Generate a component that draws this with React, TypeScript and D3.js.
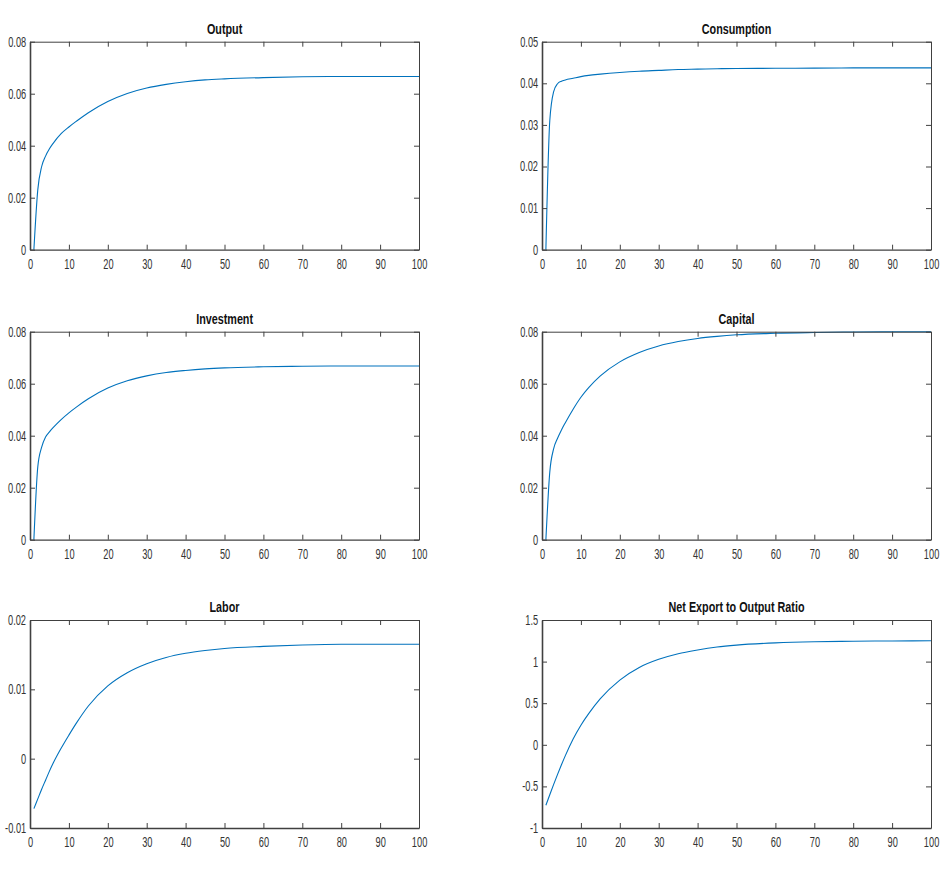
import { useMemo, useEffect, useRef } from "react";
import * as d3 from "d3";

const width = 948;
const height = 872;
const plotW = 389;
const plotH = 208;
const colLeft = [30, 542];
const rowTop = [41.7, 331.7, 620];

const lineColor = "#0072BD";
const axisColor = "#404040";
const fontFamily = "'Liberation Sans', Arial, sans-serif";
const squeeze = 0.66;

const periods = [1, 2, 3, 4, 5, 6, 8, 10, 12, 15, 20, 25, 30, 35, 40, 45, 50, 60, 70, 80, 90, 100];
const xTicks = [0, 10, 20, 30, 40, 50, 60, 70, 80, 90, 100];

const output = [0, 0.023, 0.032, 0.036, 0.0388, 0.041, 0.0446, 0.0472, 0.0495, 0.0527, 0.057, 0.0601, 0.0622, 0.0636, 0.0646, 0.0653, 0.0657, 0.0662, 0.0665, 0.0666, 0.0666, 0.0666];
const consumption = [0, 0.031, 0.038, 0.0399, 0.0405, 0.0408, 0.0412, 0.0416, 0.0419, 0.0422, 0.0426, 0.0429, 0.0431, 0.0433, 0.0434, 0.0435, 0.04355, 0.0436, 0.04365, 0.0437, 0.0437, 0.0437];
const investment = [0, 0.028, 0.0356, 0.0395, 0.0415, 0.0432, 0.0462, 0.0488, 0.0511, 0.0542, 0.0583, 0.0611, 0.063, 0.0643, 0.0651, 0.0657, 0.0661, 0.0665, 0.0667, 0.0668, 0.0668, 0.0668];
const capital = [0, 0.026, 0.035, 0.039, 0.0422, 0.045, 0.0502, 0.0548, 0.0585, 0.063, 0.0684, 0.072, 0.0745, 0.0762, 0.0774, 0.0782, 0.0788, 0.0794, 0.0797, 0.0799, 0.08, 0.08];
const labor = [-0.0072, -0.0058, -0.0044, -0.0031, -0.0018, -0.0006, 0.0015, 0.0034, 0.0052, 0.0076, 0.0105, 0.0124, 0.0137, 0.0146, 0.0152, 0.0156, 0.0159, 0.0162, 0.0164, 0.0165, 0.0165, 0.0165];
const netExportRatio = [-0.727, -0.6, -0.475, -0.355, -0.24, -0.13, 0.07, 0.236, 0.375, 0.555, 0.778, 0.93, 1.027, 1.095, 1.14, 1.175, 1.198, 1.225, 1.239, 1.245, 1.248, 1.25];

const ticks008 = [0, 0.02, 0.04, 0.06, 0.08];
const ticks005 = [0, 0.01, 0.02, 0.03, 0.04, 0.05];
const laborTicks = [-0.01, 0, 0.01, 0.02];
const ratioTicks = [-1, -0.5, 0, 0.5, 1, 1.5];

const panels = [
  { title: "Output", values: output, yTicks: ticks008, col: 0, row: 0 },
  { title: "Consumption", values: consumption, yTicks: ticks005, col: 1, row: 0 },
  { title: "Investment", values: investment, yTicks: ticks008, col: 0, row: 1 },
  { title: "Capital", values: capital, yTicks: ticks008, col: 1, row: 1 },
  { title: "Labor", values: labor, yTicks: laborTicks, col: 0, row: 2 },
  { title: "Net Export to Output Ratio", values: netExportRatio, yTicks: ratioTicks, col: 1, row: 2 },
];

type PanelProps = {
  title: string;
  values: number[];
  yTicks: number[];
  col: number;
  row: number;
};

const fmt = (d: d3.NumberValue) => String(+(+d).toFixed(4));

const Panel = ({ title, values, yTicks, col, row }: PanelProps) => {
  const bottomRef = useRef(null);
  const topRef = useRef(null);
  const leftRef = useRef(null);
  const rightRef = useRef(null);

  const left = colLeft[col];
  const top = rowTop[row];

  const { xScale, yScale, path } = useMemo(() => {
    const xScale = d3.scaleLinear().domain([0, 100]).range([0, plotW]);
    const yScale = d3
      .scaleLinear()
      .domain([yTicks[0], yTicks[yTicks.length - 1]])
      .range([plotH, 0]);
    const line = d3
      .line<number>()
      .x((_, i) => xScale(periods[i]))
      .y((d) => yScale(d))
      .curve(d3.curveMonotoneX);
    return { xScale, yScale, path: line(values) || "" };
  }, [values, yTicks]);

  useEffect(() => {
    const style = (g: d3.Selection<SVGGElement, unknown, null, undefined>, origin: string, w: number) => {
      g.select(".domain").attr("stroke", axisColor).attr("stroke-width", w);
      g.selectAll(".tick line").attr("stroke", axisColor);
      g.attr("font-family", fontFamily).attr("font-size", 14);
      g.selectAll<SVGTextElement, unknown>(".tick text")
        .attr("fill", "#333")
        .style("transform-box", "fill-box")
        .style("transform-origin", origin)
        .style("transform", `scaleX(${squeeze})`);
    };

    if (bottomRef.current) {
      const g = d3.select<SVGGElement, unknown>(bottomRef.current);
      g.call(d3.axisBottom(xScale).tickValues(xTicks).tickSizeInner(-5).tickSizeOuter(0).tickPadding(9));
      style(g, "50% 50%", 1.3);
    }
    if (topRef.current) {
      const g = d3.select<SVGGElement, unknown>(topRef.current);
      g.call(d3.axisTop(xScale).tickValues(xTicks).tickSizeInner(-5).tickSizeOuter(0).tickFormat(() => ""));
      style(g, "50% 50%", 1);
    }
    if (leftRef.current) {
      const g = d3.select<SVGGElement, unknown>(leftRef.current);
      g.call(d3.axisLeft(yScale).tickValues(yTicks).tickSizeInner(-5).tickSizeOuter(0).tickPadding(4).tickFormat(fmt));
      style(g, "100% 50%", 1.6);
    }
    if (rightRef.current) {
      const g = d3.select<SVGGElement, unknown>(rightRef.current);
      g.call(d3.axisRight(yScale).tickValues(yTicks).tickSizeInner(-5).tickSizeOuter(0).tickFormat(() => ""));
      style(g, "50% 50%", 1);
    }
  }, [xScale, yScale, yTicks]);

  return (
    <g transform={`translate(${left}, ${top})`}>
      <rect x={0} y={0} width={plotW} height={plotH} fill="#fff" />
      <path d={path} fill="none" stroke={lineColor} strokeWidth={1.1} />
      <g ref={bottomRef} transform={`translate(0, ${plotH})`} />
      <g ref={topRef} />
      <g ref={leftRef} />
      <g ref={rightRef} transform={`translate(${plotW}, 0)`} />
      <text
        x={plotW / 2}
        y={-8}
        textAnchor="middle"
        fontFamily={fontFamily}
        fontSize={15}
        fontWeight="bold"
        fill="#111"
        style={{ transformBox: "fill-box", transformOrigin: "50% 50%", transform: "scaleX(0.72)" }}
      >
        {title}
      </text>
    </g>
  );
};

const App = () => (
  <svg
    width={width}
    height={height}
    style={{ position: "absolute", left: 0, top: 0, background: "#fff" }}
  >
    {panels.map((p) => (
      <Panel key={p.title} {...p} />
    ))}
  </svg>
);

export default App;
